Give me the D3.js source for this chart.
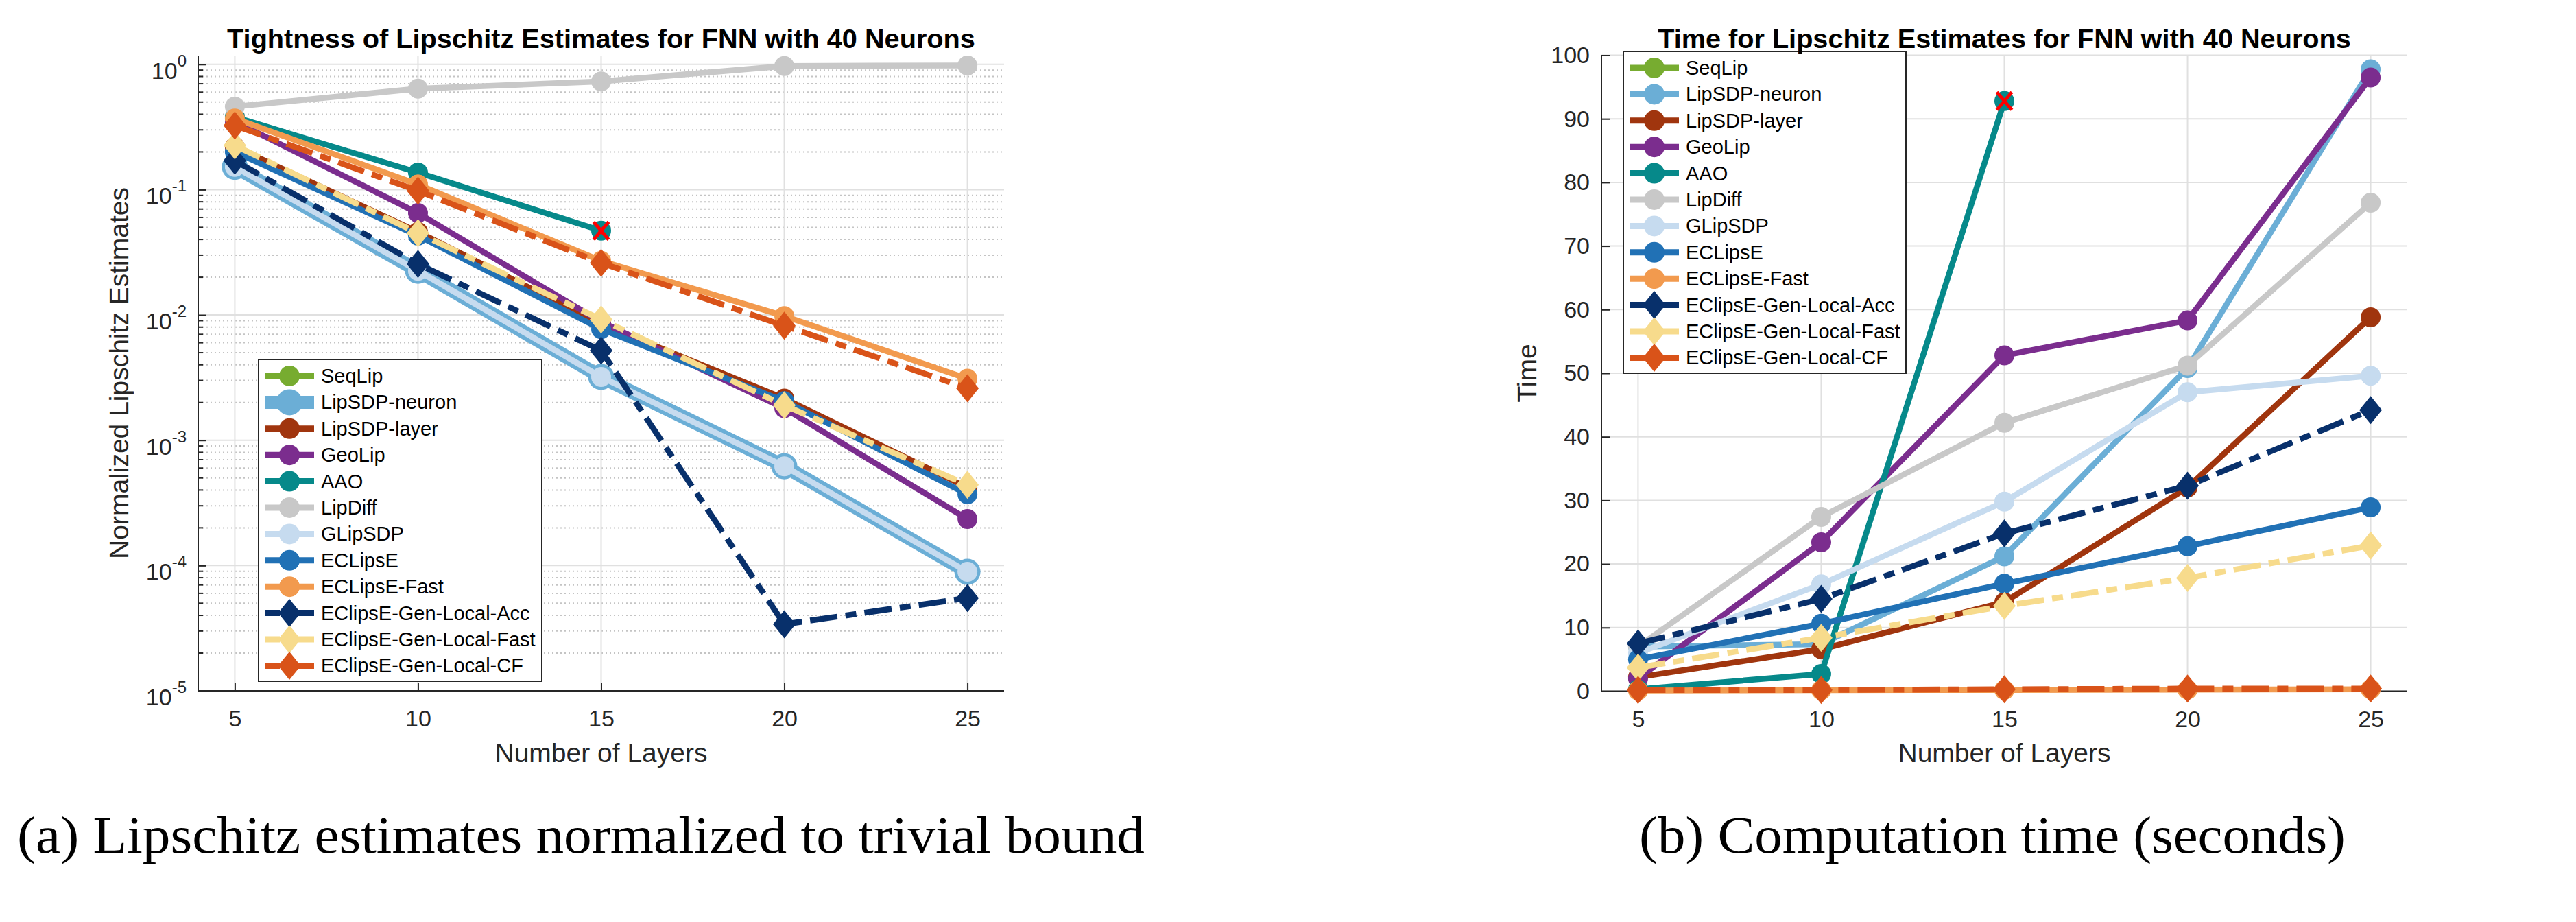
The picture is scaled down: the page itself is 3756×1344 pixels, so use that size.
<!DOCTYPE html>
<html>
<head>
<meta charset="utf-8">
<script src="https://cdn.jsdelivr.net/npm/d3@7/dist/d3.min.js"></script>
<style>
body { margin: 0; background: #fff; }
svg { display: block; background: #fff; }
text { font-family: "Liberation Sans", Arial, Helvetica, sans-serif; fill: #262626; }
text.caption { font-family: "Liberation Serif", "DejaVu Serif", serif; fill: #000; }
text.title { fill: #000; }
</style>
</head>
<body>
<svg id="fig" width="3756" height="1344"></svg>
<script>
// x values (number of layers)
const layers = [5, 10, 15, 20, 25];

const methods = ["SeqLip", "LipSDP-neuron", "LipSDP-layer", "GeoLip", "AAO", "LipDiff", "GLipSDP",
  "ECLipsE", "ECLipsE-Fast", "EClipsE-Gen-Local-Acc", "EClipsE-Gen-Local-Fast", "EClipsE-Gen-Local-CF"];
const methodColors = ["#77AC30", "#6BAED6", "#A0350E", "#7B2D8E", "#06898A", "#C8C8C8", "#C6DBEF",
  "#2171B5", "#F29A4E", "#08306B", "#F7DB8C", "#D95319"];

// (a) normalized Lipschitz estimates
const tightSeqLip       = [null, null, null, null, null];
const tightLipSDPNeuron = [0.152, 0.0225, 0.0032, 0.00062, 0.000089];
const tightLipSDPLayer  = [0.22, 0.046, 0.0085, 0.00215, 0.00042];
const tightGeoLip       = [0.35, 0.065, 0.0088, 0.0018, 0.000235];
const tightAAO          = [0.38, 0.137, 0.047, null, null];
const tightLipDiff      = [0.46, 0.64, 0.73, 0.97, 0.98];
const tightGLipSDP      = [0.152, 0.0225, 0.0032, 0.00062, 0.000089];
const tightECLipsE      = [0.2, 0.043, 0.0077, 0.00205, 0.00037];
const tightECLipsEFast  = [0.37, 0.11, 0.027, 0.0098, 0.0031];
const tightGenAcc       = [0.17, 0.0255, 0.0052, 0.000034, 0.000055];
const tightGenFast      = [0.225, 0.045, 0.0092, 0.0019, 0.00044];
const tightGenCF        = [0.325, 0.098, 0.026, 0.0082, 0.0026];

// (b) computation time (seconds)
const timeSeqLip       = [null, null, null, null, null];
const timeLipSDPNeuron = [7.0, 7.4, 21.2, 50.8, 97.8];
const timeLipSDPLayer  = [2.2, 6.6, 14.0, 32.0, 58.8];
const timeGeoLip       = [2.0, 23.4, 52.8, 58.3, 96.5];
const timeAAO          = [0.3, 2.7, 92.8, null, null];
const timeLipDiff      = [7.0, 27.4, 42.2, 51.2, 76.8];
const timeGLipSDP      = [6.0, 16.8, 29.8, 47.0, 49.6];
const timeECLipsE      = [5.0, 10.6, 16.9, 22.8, 28.9];
const timeECLipsEFast  = [0.1, 0.15, 0.2, 0.25, 0.3];
const timeGenAcc       = [7.5, 14.5, 24.8, 32.3, 44.2];
const timeGenFast      = [3.7, 8.4, 13.4, 17.8, 22.9];
const timeGenCF        = [0.2, 0.2, 0.3, 0.4, 0.4];

const xTicks = [5, 10, 15, 20, 25];
const logTicks = [-5, -4, -3, -2, -1, 0];
const timeTicks = [0, 10, 20, 30, 40, 50, 60, 70, 80, 90, 100];

const tightData = [tightSeqLip, tightLipSDPNeuron, tightLipSDPLayer, tightGeoLip, tightAAO, tightLipDiff,
  tightGLipSDP, tightECLipsE, tightECLipsEFast, tightGenAcc, tightGenFast, tightGenCF];
const timeData = [timeSeqLip, timeLipSDPNeuron, timeLipSDPLayer, timeGeoLip, timeAAO, timeLipDiff,
  timeGLipSDP, timeECLipsE, timeECLipsEFast, timeGenAcc, timeGenFast, timeGenCF];

const svg = d3.select("#fig");
const axisCol = "#262626";
const dashDot = "40,12,16,12";

function markerPath(isDiamond, r) {
  if (isDiamond) return "M0,-20.5L16.5,0L0,20.5L-16.5,0Z";
  return d3.symbol().type(d3.symbolCircle).size(Math.PI * r * r)();
}

function fitText(sel, width) {
  const w = sel.node().getComputedTextLength();
  const fs = parseFloat(sel.attr("font-size"));
  sel.attr("font-size", fs * width / w);
}

function drawPanel(o) {
  const g = svg.append("g");
  const x = d3.scaleLinear().domain([4, 26]).range([o.x0, o.x1]);
  const y = o.log
    ? d3.scaleLog().domain([1e-5, Math.pow(10, 0.07)]).range([o.y0, o.y1])
    : d3.scaleLinear().domain([0, 100]).range([o.y0, o.y1]);

  // grid
  if (o.log) {
    const minors = [];
    logTicks.slice(0, -1).forEach(e => { for (let k = 2; k <= 9; k++) minors.push(k * Math.pow(10, e)); });
    g.selectAll(".mgrid").data(minors).join("line")
      .attr("x1", o.x0).attr("x2", o.x1)
      .attr("y1", d => y(d)).attr("y2", d => y(d))
      .attr("stroke", "#c4c4c4").attr("stroke-width", 2).attr("stroke-dasharray", "2,4");
    g.selectAll(".mtick").data(minors).join("line")
      .attr("x1", o.x0).attr("x2", o.x0 + 7)
      .attr("y1", d => y(d)).attr("y2", d => y(d))
      .attr("stroke", axisCol).attr("stroke-width", 2);
  }
  const yt = o.log ? logTicks.map(e => Math.pow(10, e)) : timeTicks;
  g.selectAll(".hgrid").data(yt).join("line")
    .attr("x1", o.x0).attr("x2", o.x1)
    .attr("y1", d => y(d)).attr("y2", d => y(d))
    .attr("stroke", "#e0e0e0").attr("stroke-width", 2);
  g.selectAll(".vgrid").data(xTicks).join("line")
    .attr("x1", d => x(d)).attr("x2", d => x(d))
    .attr("y1", o.y0).attr("y2", o.y1)
    .attr("stroke", "#e0e0e0").attr("stroke-width", 2);

  // axes
  const xa = g.append("g").attr("transform", `translate(0,${o.y0})`)
    .call(d3.axisBottom(x).tickValues(xTicks).tickSize(-12).tickPadding(28));
  const ya = g.append("g").attr("transform", `translate(${o.x0},0)`)
    .call(d3.axisLeft(y).tickValues(yt).tickSize(-12).tickPadding(17)
      .tickFormat(o.log ? () => "" : d3.format("d")));
  [xa, ya].forEach(a => {
    a.select(".domain").attr("stroke", axisCol).attr("stroke-width", 2);
    a.selectAll(".tick line").attr("stroke", axisCol).attr("stroke-width", 2);
    a.selectAll(".tick text").attr("font-size", 34);
  });
  xa.select(".domain").attr("d", `M${o.x0},0H${o.x1}`);
  ya.select(".domain").attr("d", `M0,${o.y0}V${o.y1}`);
  if (o.log) {
    const lab = g.selectAll(".ylab").data(logTicks).join("text")
      .attr("x", o.x0 - 17).attr("y", d => y(Math.pow(10, d)) + 21)
      .attr("text-anchor", "end").attr("font-size", 34);
    lab.append("tspan").text("10");
    lab.append("tspan").attr("font-size", 24).attr("dy", -18).text(d => d);
  }

  // series
  const line = d3.line().defined(d => d.v != null).x(d => x(d.x)).y(d => y(d.v));
  o.data.forEach((arr, i) => {
    const pts = layers.map((l, j) => ({ x: l, v: arr[j] }));
    const diamond = i >= 9;
    const thick = o.log && i === 1;
    const col = methodColors[i];
    g.append("path").datum(pts).attr("d", line)
      .attr("fill", "none").attr("stroke", col)
      .attr("stroke-width", thick ? 20 : 8.5)
      .attr("stroke-linejoin", "round")
      .attr("stroke-dasharray", diamond ? dashDot : null);
    g.selectAll(null).data(pts.filter(d => d.v != null)).join("path")
      .attr("d", markerPath(diamond, thick ? 19 : 14.5))
      .attr("transform", d => `translate(${x(d.x)},${y(d.v)})`)
      .attr("fill", col);
  });

  // failure marker on AAO's last point
  const aao = o.data[4];
  let last = -1;
  aao.forEach((v, j) => { if (v != null) last = j; });
  const xx = x(layers[last]), yy = y(aao[last]);
  g.append("path").attr("d", `M${xx - 11},${yy - 13}L${xx + 11},${yy + 13}M${xx - 11},${yy + 13}L${xx + 11},${yy - 13}`)
    .attr("stroke", "#FF0000").attr("stroke-width", 5).attr("fill", "none");

  // legend
  const lg = g.append("g").attr("transform", `translate(${o.lx},${o.ly})`);
  lg.append("rect").attr("width", o.lw).attr("height", 469)
    .attr("fill", "#fff").attr("stroke", axisCol).attr("stroke-width", 2);
  methods.forEach((m, i) => {
    const cy = 24 + i * 38.4;
    const diamond = i >= 9;
    const thick = o.log && i === 1;
    lg.append("line").attr("x1", 9).attr("x2", 81).attr("y1", cy).attr("y2", cy)
      .attr("stroke", methodColors[i]).attr("stroke-width", thick ? 19 : 9)
      .attr("stroke-dasharray", diamond ? "22,10,40" : null);
    lg.append("path").attr("d", markerPath(diamond, thick ? 19 : 15))
      .attr("transform", `translate(45,${cy})`).attr("fill", methodColors[i]);
    lg.append("text").attr("x", 91).attr("y", cy + 10).attr("font-size", 29).style("fill", "#000").text(m);
  });

  // title and labels
  const t = g.append("text").attr("class", "title").attr("x", (o.x0 + o.x1) / 2).attr("y", 70)
    .attr("text-anchor", "middle").attr("font-weight", "bold").attr("font-size", 36)
    .text(o.title);
  fitText(t, o.titleW);
  g.append("text").attr("x", (o.x0 + o.x1) / 2).attr("y", 1111)
    .attr("text-anchor", "middle").attr("font-size", 39).text("Number of Layers");
  g.append("text").attr("transform", `translate(${o.ylx},${(o.y0 + o.y1) / 2}) rotate(-90)`)
    .attr("text-anchor", "middle").attr("font-size", 39).text(o.ylabel);
  g.append("text").attr("class", "caption").attr("x", o.cx).attr("y", 1243)
    .attr("font-size", 77)
    .attr("textLength", o.cw).attr("lengthAdjust", "spacingAndGlyphs")
    .text(o.caption);
}

drawPanel({
  x0: 289, x1: 1464, y0: 1007, y1: 81, log: true, data: tightData,
  lx: 377, ly: 524, lw: 413,
  title: "Tightness of Lipschitz Estimates for FNN with 40 Neurons", titleW: 1091,
  ylabel: "Normalized Lipschitz Estimates", ylx: 187,
  caption: "(a) Lipschitz estimates normalized to trivial bound", cx: 25, cw: 1644
});
drawPanel({
  x0: 2335, x1: 3510, y0: 1007.5, y1: 80.5, log: false, data: timeData,
  lx: 2367, ly: 75, lw: 412,
  title: "Time for Lipschitz Estimates for FNN with 40 Neurons", titleW: 1011,
  ylabel: "Time", ylx: 2240,
  caption: "(b) Computation time (seconds)", cx: 2390, cw: 1030
});
</script>
</body>
</html>
